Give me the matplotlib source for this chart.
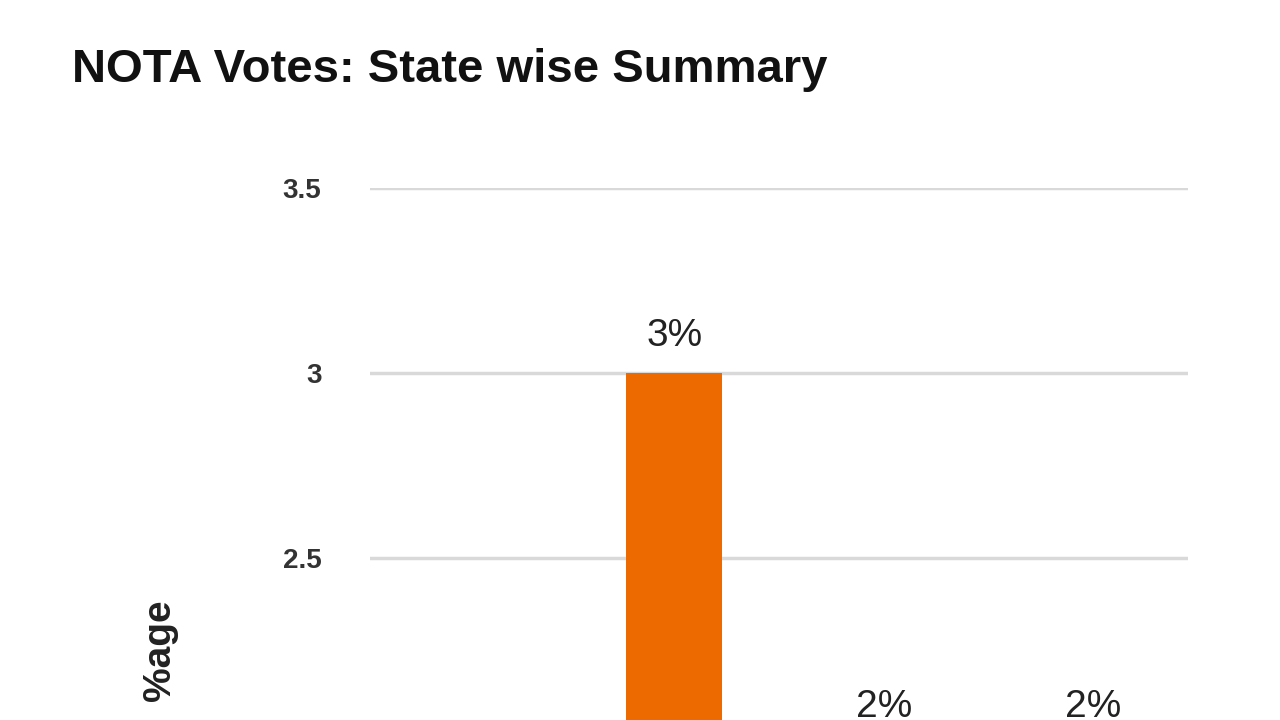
import matplotlib.pyplot as plt

plt.rcParams['font.family'] = ['Liberation Sans', 'DejaVu Sans']

states = ["State A", "State B", "State C", "State D"]
nota_pct = [1.0, 3.0, 2.0, 2.0]
bar_labels = ["1%", "3%", "2%", "2%"]
yticks = [0, 0.5, 1, 1.5, 2, 2.5, 3, 3.5]
ytick_labels = ["0", "0.5", "1", "1.5", "2", "2.5", "3", "3.5"]

fig = plt.figure(figsize=(12.8, 7.2), dpi=100)
ax = fig.add_axes([370 / 1280, -1.06, (1188 - 370) / 1280, 0.739 + 1.06])

ax.bar(range(len(states)), nota_pct, width=0.46, color="#ec6a00", zorder=3)
for i, (v, lab) in enumerate(zip(nota_pct, bar_labels)):
    ax.text(i, v + 0.05, lab, ha="center", va="bottom", fontsize=28, color="#222222")

ax.set_xlim(-0.45, 3.45)
ax.set_ylim(0, 3.5)
ax.set_yticks(yticks)
ax.set_yticklabels(ytick_labels, fontsize=20, fontweight="bold", color="#333333")
ax.set_xticks(range(len(states)))
ax.set_xticklabels(states)
ax.tick_params(axis="y", length=0, pad=35)
ax.grid(axis="y", color="#d9d9d9", linewidth=2.5, zorder=0)
for s in ax.spines.values():
    s.set_visible(False)

fig.text(160 / 1280, 1 - 650 / 720, "%age", rotation=90, ha="center", va="center",
         fontsize=28, fontweight="bold", color="#222222")
fig.text(72 / 1280, 1 - 70 / 720, "NOTA Votes: State wise Summary", ha="left", va="center",
         fontsize=34, fontweight="bold", color="#111111")

fig.savefig("out.png", dpi=100)
